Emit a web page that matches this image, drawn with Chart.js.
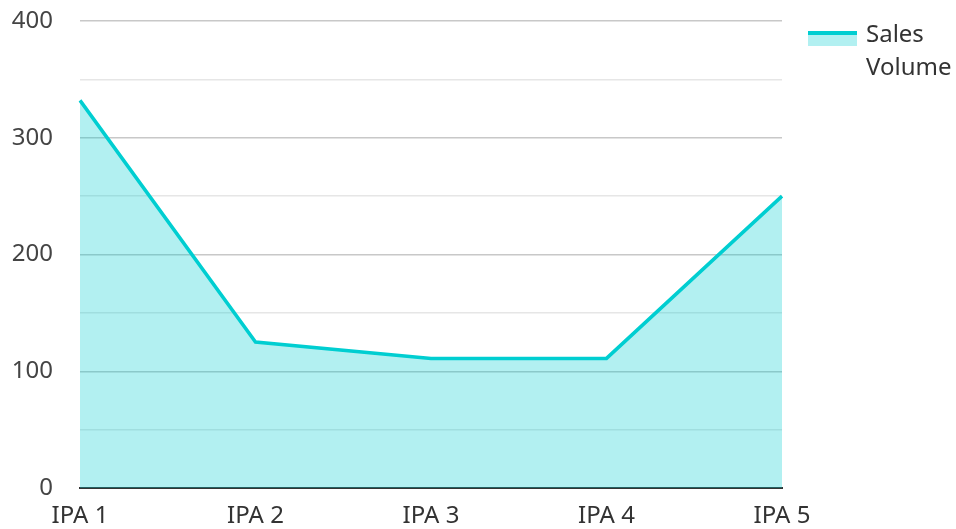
<!DOCTYPE html>
<html>
<head>
<meta charset="utf-8">
<script src="https://cdn.jsdelivr.net/npm/chart.js@4"></script>
<style>
html,body{margin:0;padding:0;background:#fff;}
#wrap{position:relative;width:956px;height:529px;}
</style>
</head>
<body>
<div id="wrap"><canvas id="c" width="956" height="529"></canvas></div>
<script>
const categories = ["IPA 1", "IPA 2", "IPA 3", "IPA 4", "IPA 5"];
const salesVolume = [332, 125, 111, 111, 250];
const seriesName = ["Sales", "Volume"];

const legendPlugin = {
  id: 'customLegend',
  afterDraw(chart) {
    const ctx = chart.ctx;
    ctx.save();
    ctx.fillStyle = 'rgba(0,206,209,0.3)';
    ctx.fillRect(808, 32, 49, 14);
    ctx.fillStyle = '#00CED1';
    ctx.fillRect(808, 31, 49, 4);
    ctx.fillStyle = '#333';
    ctx.font = '24px "Noto Sans"';
    ctx.textBaseline = 'alphabetic';
    ctx.fillText(seriesName[0], 866, 42);
    ctx.fillText(seriesName[1], 866, 75);
    ctx.restore();
  }
};

new Chart(document.getElementById('c'), {
  type: 'line',
  data: {
    labels: categories,
    datasets: [{
      label: seriesName.join(' '),
      data: salesVolume,
      borderColor: '#00CED1',
      backgroundColor: 'rgba(0,206,209,0.3)',
      borderWidth: 3.5,
      pointRadius: 0,
      tension: 0,
      fill: 'origin'
    }]
  },
  options: {
    responsive: false,
    animation: false,
    layout: { padding: { left: 10, right: 174, top: 0, bottom: 0 } },
    plugins: { legend: { display: false }, tooltip: { enabled: false } },
    scales: {
      x: {
        offset: false,
        grid: { display: false, drawTicks: false },
        border: { color: '#333', width: 2 },
        afterFit: (s) => { s.height = 41; s.paddingLeft = 30; s.paddingRight = 30; },
        ticks: { font: { family: 'Noto Sans', size: 24 }, color: '#333', padding: 14, maxRotation: 0 }
      },
      y: {
        min: 0, max: 400,
        border: { display: false },
        afterFit: (s) => { s.width = 70; s.paddingTop = 21; s.paddingBottom = 14; },
        grid: {
          drawTicks: false,
          color: (c) => (c.tick && c.tick.value % 100 === 0) ? '#c8c8c8' : '#e6e6e6',
          lineWidth: 1.5
        },
        ticks: {
          stepSize: 50,
          padding: 27,
          font: { family: 'Noto Sans', size: 24 },
          color: '#444',
          callback: (v) => v % 100 === 0 ? v : ''
        }
      }
    }
  },
  plugins: [legendPlugin]
});
</script>
</body>
</html>
